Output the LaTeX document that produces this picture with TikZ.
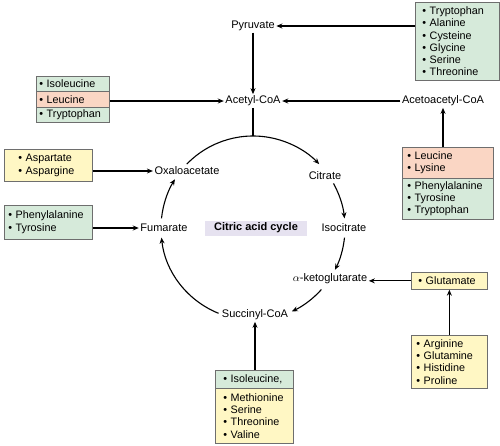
\documentclass[tikz,border=0pt]{standalone}
\usepackage{fontspec}
\setmainfont{Liberation Sans}
\usetikzlibrary{arrows.meta,calc}
\hyphenpenalty=10000
\exhyphenpenalty=10000
\definecolor{grn}{RGB}{214,234,218}
\definecolor{pnk}{RGB}{250,214,196}
\definecolor{ylw}{RGB}{255,247,196}
\definecolor{lav}{RGB}{230,226,240}
\definecolor{edge}{RGB}{110,110,110}
\tikzset{
 cell/.style={draw=edge, line width=0.7pt, anchor=north west, font=\fontsize{10.8}{12.3}\selectfont, align=left, inner ysep=0pt},
 lab/.style={font=\fontsize{11}{13}\selectfont, inner sep=1.5pt},
 arr/.style={line width=1.1pt, -{Stealth[length=6pt,width=5pt]}},
 ln/.style={line width=1.1pt}
}
\begin{document}
\begin{tikzpicture}[x=1pt,y=-1pt]
\useasboundingbox (0,0) rectangle (500,445);
% metabolite labels
\node[lab] (pyr) at (253,26) {Pyruvate};
\node[lab] (acoa) at (253,101) {Acetyl-CoA};
\node[lab] (aca) at (443,101) {Acetoacetyl-CoA};
\node[lab] (oxa) at (187,171) {Oxaloacetate};
\node[lab] (cit) at (325,176) {Citrate};
\node[lab] (iso) at (344,228) {Isocitrate};
\node[lab] (fum) at (164,228) {Fumarate};
\node[lab] (akg) at (330,279) {$\alpha$-ketoglutarate};
\node[lab] (suc) at (255,315) {Succinyl-CoA};
\node[lab, font=\fontsize{11}{13}\selectfont\bfseries, fill=lav, minimum width=102pt, minimum height=15pt, inner sep=0pt] (cac) at (256,228) {Citric acid cycle};
\coordinate (C) at (253,228);
\coordinate (ctop) at (253,136);
% boxes
\node[cell, fill=grn, text width=67pt, inner xsep=3pt, minimum height=15.3pt] (lt1) at (36,76) {•~Isoleucine};
\node[cell, fill=pnk, text width=67pt, inner xsep=3pt, minimum height=15.3pt] (lt2) at (36,91.3) {•~Leucine};
\node[cell, fill=grn, text width=67pt, inner xsep=3pt, minimum height=15.4pt] (lt3) at (36,106.6) {•~Tryptophan};
\node[cell, fill=grn, text width=70pt, inner xsep=7pt, minimum height=78pt] (tr) at (415,2) {•~Tryptophan\\•~Alanine\\•~Cysteine\\•~Glycine\\•~Serine\\•~Threonine};
\node[cell, fill=ylw, text width=60pt, inner xsep=14pt, minimum height=32pt] (asp) at (4,149) {•~Aspartate\\•~Aspargine};
\node[cell, fill=grn, text width=80pt, inner xsep=4pt, minimum height=34pt] (phe) at (4,205) {•~Phenylalanine\\•~Tyrosine};
\node[cell, fill=pnk, text width=81pt, inner xsep=5pt, minimum height=31pt] (rm1) at (402,147) {•~Leucine\\•~Lysine};
\node[cell, fill=grn, text width=81pt, inner xsep=5pt, minimum height=41pt] (rm2) at (402,178) {•~Phenylalanine\\•~Tyrosine\\•~Tryptophan};
\node[cell, fill=ylw, text width=62pt, inner xsep=7pt, minimum height=17pt] (glu) at (411,272) {•~Glutamate};
\node[cell, fill=ylw, text width=66pt, inner xsep=5pt, minimum height=53pt] (arg) at (411,335) {•~Arginine\\•~Glutamine\\•~Histidine\\•~Proline};
\node[cell, fill=grn, text width=62pt, inner xsep=8pt, minimum height=18pt] (bt1) at (215,370) {•~Isoleucine,};
\node[cell, fill=ylw, text width=62pt, inner xsep=8pt, minimum height=55pt] (bt2) at (215,388) {•~Methionine\\•~Serine\\•~Threonine\\•~Valine};
% connectors
\draw[arr] (pyr.east -| tr.west) -- (pyr.east);
\draw[arr] (pyr.south) -- (acoa.north);
\draw[arr] (lt2.east |- acoa.west) -- (acoa.west);
\draw[arr] (aca.west) -- (acoa.east);
\draw[arr] (aca.south |- rm1.north) -- (aca.south);
\draw[ln] (acoa.south) -- (ctop);
\draw[arr] (asp.east |- oxa.west) -- (oxa.west);
\draw[arr] (phe.east |- fum.west) -- (fum.west);
\draw[arr] (glu.west) -- (akg.east |- glu.west);
\draw[arr] (arg.north) -- (glu.south);
\draw[arr] (bt1.north -| suc.south) -- (suc.south);
% cycle arcs
\draw[arr] ([shift={(-136:92)}]C) arc[start angle=-136, end angle=-44, radius=92];
\draw[arr] ([shift={(-29:92)}]C) arc[start angle=-29, end angle=-6, radius=92];
\draw[arr] ([shift={(6:92)}]C) arc[start angle=6, end angle=27, radius=92];
\draw[arr] ([shift={(42:92)}]C) arc[start angle=42, end angle=65, radius=92];
\draw[arr] ([shift={(112:92)}]C) arc[start angle=112, end angle=174, radius=92];
\draw[arr] ([shift={(-174:92)}]C) arc[start angle=-174, end angle=-148, radius=92];
\end{tikzpicture}
\end{document}
